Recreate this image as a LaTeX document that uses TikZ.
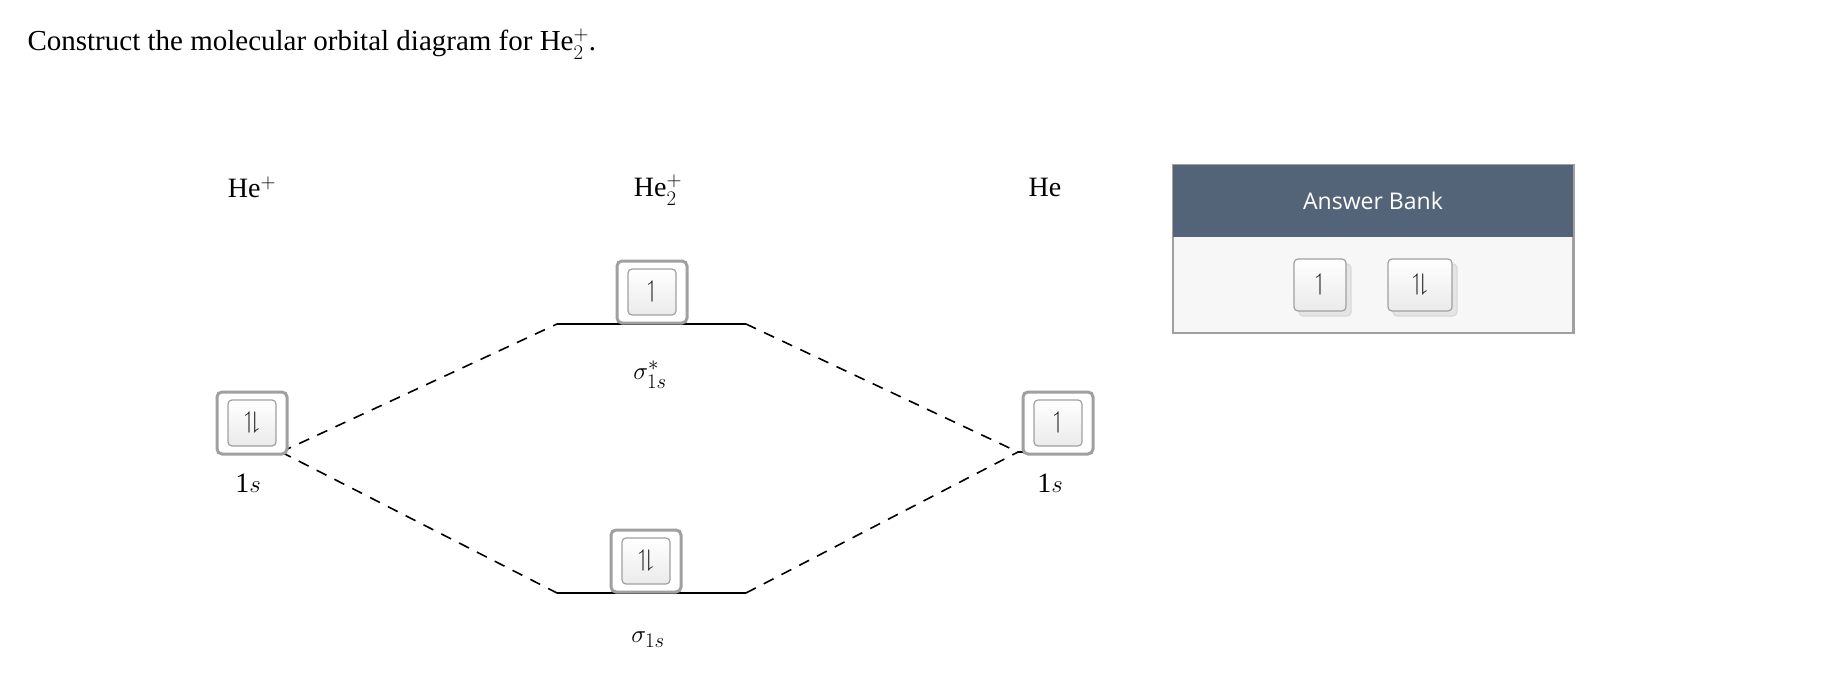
\documentclass[tikz,border=0pt]{standalone}
\usepackage{amsmath}
\usepackage{amssymb}
\usepackage{fontspec}
\setmainfont{Liberation Serif}
\newfontfamily\banksans{Open Sans}
\usetikzlibrary{positioning}
\definecolor{bankhead}{HTML}{546478}
\definecolor{bankbody}{HTML}{F7F7F7}
\definecolor{tileedge}{HTML}{A0A0A0}
\newcommand{\upe}{$\upharpoonleft$}
\newcommand{\pair}{$\upharpoonleft\!\downharpoonright$}

\begin{document}
\begin{tikzpicture}[x=1pt,y=-1pt,
    level/.style={line width=2pt},
    link/.style={dashed,line width=1.6pt,dash pattern=on 11pt off 9pt},
    tile/.style={draw=tileedge,line width=1.2pt,rounded corners=4pt,top color=white,bottom color=black!8,
        minimum width=48pt,minimum height=46pt,font=\fontsize{24}{24}\selectfont\sffamily},
    under/.style={draw=black!15,line width=1.2pt,rounded corners=4pt,fill=black!10,minimum height=52pt},
    slot/.style={draw=tileedge,line width=3pt,rounded corners=5pt,minimum width=70pt,minimum height=62pt},
    lbl/.style={font=\fontsize{28}{30}\selectfont}]
\useasboundingbox (0,0) rectangle (1826,698);
\node[anchor=west,font=\fontsize{29}{30}\selectfont] (title) at (24,44) {Construct the molecular orbital diagram for He$_2^+$.};
% column headings
\node[lbl] (hl) at (252,187) {He$^+$};
\node[lbl] (hm) at (658,190) {He$_2^+$};
\node[lbl] (hr) at (1045,187) {He};
% levels
\coordinate (la) at (232,452); \coordinate (lb) at (281,452);
\coordinate (sa) at (557,324); \coordinate (sb) at (746,324);
\coordinate (ba) at (557,593); \coordinate (bb) at (746,593);
\coordinate (ra) at (1018,452); \coordinate (rb) at (1071,452);
\draw[level] (la) -- (lb);
\draw[level] (sa) -- (sb);
\draw[level] (ba) -- (bb);
\draw[level] (ra) -- (rb);
\draw[link] (lb) -- (sa);
\draw[link] (lb) -- (ba);
\draw[link] (sb) -- (ra);
\draw[link] (bb) -- (ra);
% filled slots
\node[slot,fill=white] (sl) at (252,423) {};
\node[tile] (tl) at (sl) {\pair};
\node[slot,fill=white] (ss) at (652,292) {};
\node[tile] (ts) at (ss) {\upe};
\node[slot,fill=white] (sbnd) at (646,561) {};
\node[tile] (tb) at (sbnd) {\pair};
\node[slot,fill=white] (sr) at (1058,423) {};
\node[tile] (tr) at (sr) {\upe};
% orbital labels
\node[lbl] (ol) at (248,483) {1$s$};
\node[lbl] (or) at (1050,483) {1$s$};
\node[lbl] (os) at (650,375) {$\sigma^*_{1s}$};
\node[lbl] (ob) at (648,640) {$\sigma_{1s}$};
% answer bank
\node[draw=tileedge,line width=1.5pt,fill=bankbody,minimum width=400pt,minimum height=167pt,inner sep=0pt] (bank) at (1373,249) {};
\fill[bankhead] (bank.north west) rectangle ([yshift=-72pt]bank.north east);
\draw[tileedge,line width=1.5pt] (bank.north west) rectangle (bank.south east);
\node[font=\fontsize{23}{24}\selectfont\banksans,text=white] (bankt) at (1373,201) {Answer Bank};
\node[under,minimum width=52pt] (u1) at (1325,290) {};
\node[tile,minimum width=52pt,minimum height=52pt] (b1) at (1320,285) {\upe};
\node[under,minimum width=64pt] (u2) at (1425,290) {};
\node[tile,minimum width=64pt,minimum height=52pt] (b2) at (1420,285) {\pair};
\end{tikzpicture}
\end{document}
